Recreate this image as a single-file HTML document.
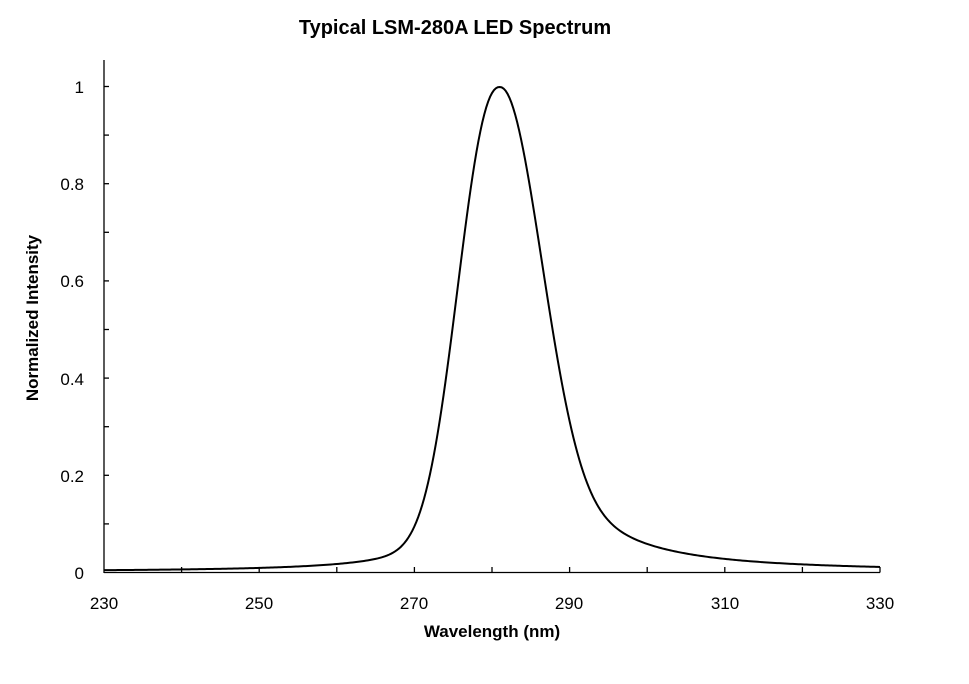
<!DOCTYPE html>
<html><head><style>
body{margin:0;background:#fff;}
svg{display:block;font-family:"Liberation Sans",sans-serif;}
</style></head><body>
<svg width="969" height="684" viewBox="0 0 969 684" xmlns="http://www.w3.org/2000/svg">
<rect width="969" height="684" fill="#fff"/>
<text x="455" y="34" text-anchor="middle" font-size="20" font-weight="bold">Typical LSM-280A LED Spectrum</text>
<g id="ax" stroke="#000" stroke-width="1.3"></g>
<path id="curve" fill="none" stroke="#000" stroke-width="2"/>
<g font-size="17" text-anchor="middle">
<text x="104" y="609">230</text><text x="259" y="609">250</text><text x="414" y="609">270</text>
<text x="569" y="609">290</text><text x="725" y="609">310</text><text x="880" y="609">330</text>
</g>
<g font-size="17" text-anchor="end">
<text x="84" y="579">0</text><text x="84" y="482">0.2</text><text x="84" y="385">0.4</text>
<text x="84" y="287">0.6</text><text x="84" y="190">0.8</text><text x="84" y="93">1</text>
</g>
<text x="492" y="637" text-anchor="middle" font-size="17" font-weight="bold">Wavelength (nm)</text>
<text transform="translate(38,318) rotate(-90)" text-anchor="middle" font-size="17" font-weight="bold">Normalized Intensity</text>
</svg>
<script>
var X=function(n){return 104+(n-230)*7.76;},Y=function(v){return 572.5-v*486;};
var ax=document.getElementById('ax'),s='';
s+='<line x1="104" y1="60" x2="104" y2="573"/><line x1="104" y1="572.5" x2="880" y2="572.5"/>';
for(var n=240;n<=330;n+=10)s+='<line x1="'+X(n)+'" y1="572.5" x2="'+X(n)+'" y2="567"/>';
for(var v=0.1;v<1.05;v+=0.1)s+='<line x1="104" y1="'+Y(v)+'" x2="109" y2="'+Y(v)+'"/>';
ax.innerHTML=s;
var d='';
for(var n=230;n<=330;n+=0.25){var left=n<281,w=left?6.1:6.8,a=left?0.8:0.5,u=Math.abs(n-281)/w;
var v=a*Math.exp(-Math.LN2*Math.pow(u,2.4))+(1-a)/(1+u*u);v=v*0.997+0.002;
d+=(d?'L':'M')+X(n).toFixed(2)+' '+Y(v).toFixed(2);}
document.getElementById('curve').setAttribute('d',d);
</script>
</body></html>
